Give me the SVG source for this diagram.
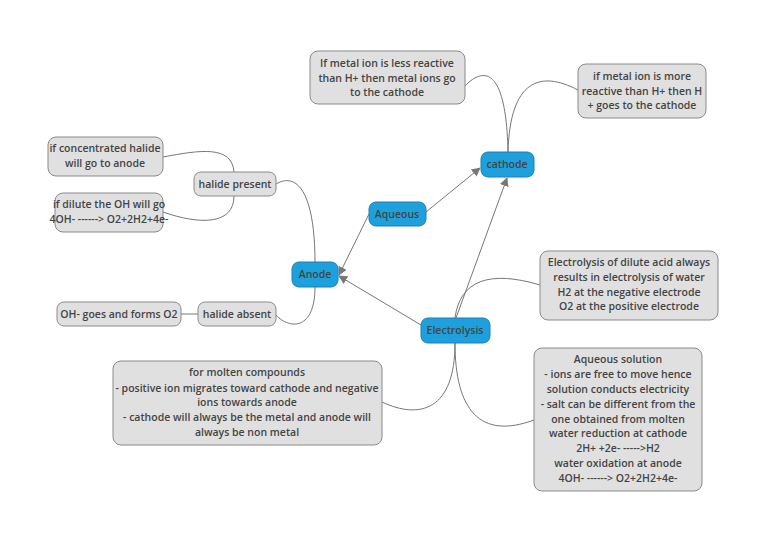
<svg xmlns="http://www.w3.org/2000/svg" width="768" height="543" viewBox="0 0 768 543">
<style>
.g{fill:#e0e0e0;stroke:#8a8a8a;stroke-width:1}
.b{fill:#1ea0dc;stroke:#1a80b4;stroke-width:1}
text{font-family:"Open Sans","Noto Sans",sans-serif;font-size:10.5px;font-weight:600;fill:#444;text-anchor:middle}
.c path,.c line{fill:none;stroke:#777;stroke-width:1}
</style>
<defs><marker id="a" viewBox="0 0 10 10" refX="9" refY="5" markerWidth="9" markerHeight="9" orient="auto"><path d="M0,0 L10,5 L0,10 z" fill="#777"/></marker></defs>
<rect width="768" height="543" fill="#fff"/>
<g class="c">
<line x1="426" y1="212" x2="480" y2="168" marker-end="url(#a)"/>
<line x1="369" y1="214" x2="339" y2="275" marker-end="url(#a)"/>
<line x1="421" y1="325" x2="339" y2="276" marker-end="url(#a)"/>
<line x1="456" y1="318" x2="507" y2="178" marker-end="url(#a)"/>
<path d="M508,152 C506,60 480,70 465,86"/>
<path d="M508,152 C510,80 540,70 578,90"/>
<path d="M315,262 C315,200 300,170 276,184"/>
<path d="M315,287 C315,330 290,330 276,315"/>
<path d="M234,172 C232,145 200,150 163,157"/>
<path d="M234,196 C234,225 200,225 163,212"/>
<line x1="181" y1="314" x2="198" y2="314"/>
<path d="M455,318 C460,280 490,270 540,285"/>
<path d="M455,343 C455,410 420,420 382,402"/>
<path d="M455,343 C455,410 480,440 534,420"/>
</g>
<g id="less"><rect class="g" x="310" y="51" width="155" height="53" rx="8"/><text x="387" y="67">If metal ion is less reactive</text><text x="387" y="82">than H+ then metal ions go</text><text x="387" y="96">to the cathode</text></g>
<g id="more"><rect class="g" x="578" y="64" width="128" height="54" rx="8"/><text x="642" y="80">if metal ion is more</text><text x="642" y="95">reactive than H+ then H</text><text x="642" y="109">+ goes to the cathode</text></g>
<g id="cathode"><rect class="b" x="481" y="152" width="53" height="25" rx="7"/><text x="507" y="168">cathode</text></g>
<g id="conc"><rect class="g" x="48" y="137" width="115" height="39" rx="8"/><text x="105" y="152">if concentrated halide</text><text x="105" y="167">will go to anode</text></g>
<g id="present"><rect class="g" x="194" y="172" width="82" height="24" rx="7"/><text x="235" y="188">halide present</text></g>
<g id="dilute"><rect class="g" x="55" y="193" width="108" height="39" rx="8"/><text x="109" y="208">if dilute the OH will go</text><text x="109" y="223">4OH- ------&gt; O2+2H2+4e-</text></g>
<g id="aqueous"><rect class="b" x="369" y="202" width="57" height="24" rx="7"/><text x="397" y="218">Aqueous</text></g>
<g id="anode"><rect class="b" x="292" y="262" width="46" height="25" rx="7"/><text x="315" y="278">Anode</text></g>
<g id="ohgoes"><rect class="g" x="57" y="302" width="124" height="24" rx="7"/><text x="119" y="318">OH- goes and forms O2</text></g>
<g id="absent"><rect class="g" x="198" y="302" width="78" height="24" rx="7"/><text x="237" y="318">halide absent</text></g>
<g id="electrolysis"><rect class="b" x="421" y="318" width="69" height="25" rx="7"/><text x="455" y="334">Electrolysis</text></g>
<g id="acid"><rect class="g" x="540" y="251" width="178" height="69" rx="8"/><text x="629" y="266">Electrolysis of dilute acid always</text><text x="629" y="281">results in electrolysis of water</text><text x="629" y="296">H2 at the negative electrode</text><text x="629" y="310">O2 at the positive electrode</text></g>
<g id="molten"><rect class="g" x="113" y="361" width="269" height="84" rx="8"/><text x="247" y="376">for molten compounds</text><text x="247" y="392">- positive ion migrates toward cathode and negative</text><text x="247" y="406">ions towards anode</text><text x="247" y="421">- cathode will always be the metal and anode will</text><text x="247" y="436">always be non metal</text></g>
<g id="aqsol"><rect class="g" x="534" y="348" width="168" height="143" rx="8"/><text x="618" y="363">Aqueous solution</text><text x="618" y="378">- ions are free to move hence</text><text x="618" y="393">solution conducts electricity</text><text x="618" y="408">- salt can be different from the</text><text x="618" y="423">one obtained from molten</text><text x="618" y="437">water reduction at cathode</text><text x="618" y="452">2H+ +2e- -----&gt;H2</text><text x="618" y="467">water oxidation at anode</text><text x="618" y="482">4OH- ------&gt; O2+2H2+4e-</text></g>
</svg>
